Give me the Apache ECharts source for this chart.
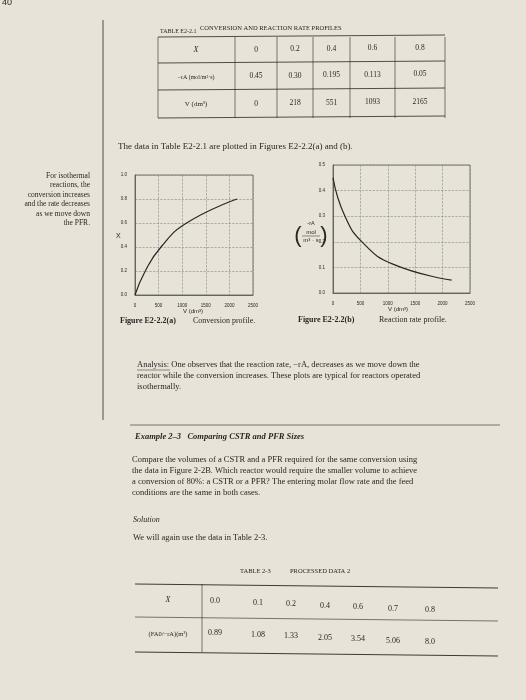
<!DOCTYPE html>
<html>
<head>
<meta charset="utf-8">
<script src="https://cdn.jsdelivr.net/npm/echarts@6/dist/echarts.min.js"></script>
<style>
  html, body { margin: 0; padding: 0; background: #e8e3d9; }
  #chart { width: 526px; height: 700px; }
</style>
</head>
<body>
<div id="chart"></div>
<script>
// Table E2-2.1 data
const conversion = [0, 0.2, 0.4, 0.6, 0.8]
const rate = [0.45, 0.30, 0.195, 0.113, 0.05]
const volume = [0, 218, 551, 1093, 2165]
// Table 2-3 data
const xProcessed = ["0.0", "0.1", "0.2", "0.4", "0.6", "0.7", "0.8"]
const levenspiel = ["0.89", "1.08", "1.33", "2.05", "3.54", "5.06", "8.0"]

const ink = "#2a2622"
const serif = "Liberation Serif, DejaVu Serif, serif"
const sans = "Liberation Sans, Arial, sans-serif"

function txt(x, y, s, opts) {
  return {
    type: "text", x: x, y: y,
    style: Object.assign({ text: s, fill: ink, font: "8px " + serif }, opts || {})
  }
}
function line(x1, y1, x2, y2, w) {
  return { type: "line", shape: { x1, y1, x2, y2 }, style: { stroke: ink, lineWidth: w || 0.8 } }
}

const g = []
g.push(txt(2, -2, "40", { font: "9px " + sans }))
g.push(line(103, 20, 103, 420, 0.8))

// Table E2-2.1
g.push(txt(160, 28, "TABLE E2-2.1", { font: "6px " + serif }))
g.push(txt(200, 25, "CONVERSION AND REACTION RATE PROFILES", { font: "6.5px " + serif }))
const t1x = [158, 235, 277, 313, 350, 395, 445]
const t1y = [37, 63, 90, 118]
for (const y of t1y) g.push(line(t1x[0], y, t1x[6], y - 2, 0.8))
for (const x of t1x) g.push(line(x, 37, x, 118, 0.6))
g.push(txt(196, 50, "X", { font: "italic 8px " + serif, align: "center", verticalAlign: "middle" }))
g.push(txt(196, 77, "−rA (mol/m³·s)", { font: "6px " + serif, align: "center", verticalAlign: "middle" }))
g.push(txt(196, 104, "V (dm³)", { font: "7px " + serif, align: "center", verticalAlign: "middle" }))
const rowsT1 = [conversion.map(String), ["0.45", "0.30", "0.195", "0.113", "0.05"], volume.map(String)]
rowsT1.forEach((row, r) => {
  row.forEach((v, i) => {
    const cx = (t1x[i + 1] + t1x[i + 2]) / 2
    const cy = (t1y[r] + t1y[r + 1]) / 2 - i * 0.5
    g.push(txt(cx, cy, v, { font: "7.5px " + serif, align: "center", verticalAlign: "middle" }))
  })
})
g.push(txt(118, 142, "The data in Table E2-2.1 are plotted in Figures E2-2.2(a) and (b).", { font: "9px " + serif }))

// Side note
const note = ["For isothermal", "reactions, the", "conversion increases", "and the rate decreases", "as we move down", "the PFR."]
note.forEach((s, i) => g.push(txt(90, 172 + i * 9.5, s, { font: "7.5px " + serif, align: "right" })))

// Axis labels and captions
g.push(txt(116, 233, "X", { font: "7px " + sans }))
g.push(txt(193, 308, "V (dm³)", { font: "6px " + sans, align: "center" }))
g.push(txt(398, 306, "V (dm³)", { font: "6px " + sans, align: "center" }))
g.push(txt(311, 220, "-rA", { font: "5.5px " + sans, align: "center" }))
g.push(txt(298, 236, "(", { font: "22px " + sans, align: "center", verticalAlign: "middle" }))
g.push(txt(311, 232, "mol", { font: "6px " + sans, align: "center", verticalAlign: "middle" }))
g.push(line(302, 236, 320, 236, 0.5))
g.push(txt(311, 240, "m³ · s", { font: "6px " + sans, align: "center", verticalAlign: "middle" }))
g.push(txt(324, 236, ")", { font: "22px " + sans, align: "center", verticalAlign: "middle" }))
g.push(txt(120, 317, "Figure E2-2.2(a)", { font: "bold 8px " + serif }))
g.push(txt(193, 317, "Conversion profile.", { font: "8px " + serif }))
g.push(txt(298, 316, "Figure E2-2.2(b)", { font: "bold 8px " + serif }))
g.push(txt(379, 316, "Reaction rate profile.", { font: "8px " + serif }))

// Analysis paragraph
const analysis = [
  "Analysis: One observes that the reaction rate, −rA, decreases as we move down the",
  "reactor while the conversion increases. These plots are typical for reactors operated",
  "isothermally."
]
analysis.forEach((s, i) => g.push(txt(137, 360 + i * 11, s, { font: "8.5px " + serif })))
g.push(line(137, 370, 170, 370, 0.5))

// Example 2-3
g.push(line(130, 425, 500, 425, 0.6))
g.push(txt(135, 432, "Example 2–3   Comparing CSTR and PFR Sizes", { font: "bold italic 8.5px " + serif }))
const ex = [
  "Compare the volumes of a CSTR and a PFR required for the same conversion using",
  "the data in Figure 2-2B. Which reactor would require the smaller volume to achieve",
  "a conversion of 80%: a CSTR or a PFR? The entering molar flow rate and the feed",
  "conditions are the same in both cases."
]
ex.forEach((s, i) => g.push(txt(132, 455 + i * 11, s, { font: "8.5px " + serif })))
g.push(txt(133, 516, "Solution", { font: "italic 8px " + serif }))
g.push(txt(133, 533, "We will again use the data in Table 2-3.", { font: "8.5px " + serif }))

// Table 2-3
g.push(txt(240, 568, "TABLE 2-3", { font: "6.5px " + serif }))
g.push(txt(290, 568, "PROCESSED DATA 2", { font: "6.5px " + serif }))
g.push(line(135, 584, 498, 588, 0.9))
g.push(line(135, 617, 498, 621, 0.6))
g.push(line(135, 652, 498, 656, 0.9))
g.push(line(202, 584, 202, 652, 0.6))
g.push(txt(168, 600, "X", { font: "italic 8px " + serif, align: "center", verticalAlign: "middle" }))
g.push(txt(168, 634, "(FA0/−rA)(m³)", { font: "6.5px " + serif, align: "center", verticalAlign: "middle" }))
const t2cx = [215, 258, 291, 325, 358, 393, 430]
xProcessed.forEach((v, i) => g.push(txt(t2cx[i], 601 + i * 1.5, v, { font: "8px " + serif, align: "center", verticalAlign: "middle" })))
levenspiel.forEach((v, i) => g.push(txt(t2cx[i], 633 + i * 1.5, v, { font: "8px " + serif, align: "center", verticalAlign: "middle" })))

const axisLine = { lineStyle: { color: "#555", width: 0.8 } }
const splitLine = { show: true, lineStyle: { type: "dashed", color: "#888", width: 0.6 } }
const labelStyle = { fontSize: 4.5, color: ink, fontFamily: sans }

function xAx(i) {
  return { type: "value", gridIndex: i, min: 0, max: 2500, interval: 500,
    axisLine, axisTick: { show: false }, splitLine,
    axisLabel: Object.assign({ formatter: v => String(v) }, labelStyle) }
}
function yAx(i, max, step) {
  return { type: "value", gridIndex: i, min: 0, max: max, interval: step,
    axisLine, axisTick: { show: false }, splitLine,
    axisLabel: Object.assign({ formatter: v => v.toFixed(1) }, labelStyle) }
}

const chart = echarts.init(document.getElementById("chart"))
chart.setOption({
  backgroundColor: "#e8e3d9",
  animation: false,
  grid: [
    { left: 135, top: 175, width: 118, height: 120, show: true, borderColor: "#555", borderWidth: 0.8 },
    { left: 333, top: 165, width: 137, height: 128, show: true, borderColor: "#555", borderWidth: 0.8 }
  ],
  xAxis: [xAx(0), xAx(1)],
  yAxis: [yAx(0, 1, 0.2), yAx(1, 0.5, 0.1)],
  series: [
    {
      type: "line", xAxisIndex: 0, yAxisIndex: 0, smooth: true, showSymbol: false,
      lineStyle: { color: ink, width: 1.2 },
      data: volume.map((v, i) => [v, conversion[i]])
    },
    {
      type: "line", xAxisIndex: 1, yAxisIndex: 1, smooth: true, showSymbol: false,
      lineStyle: { color: ink, width: 1.2 },
      data: volume.map((v, i) => [v, rate[i]])
    }
  ],
  graphic: g
})
</script>
</body>
</html>
